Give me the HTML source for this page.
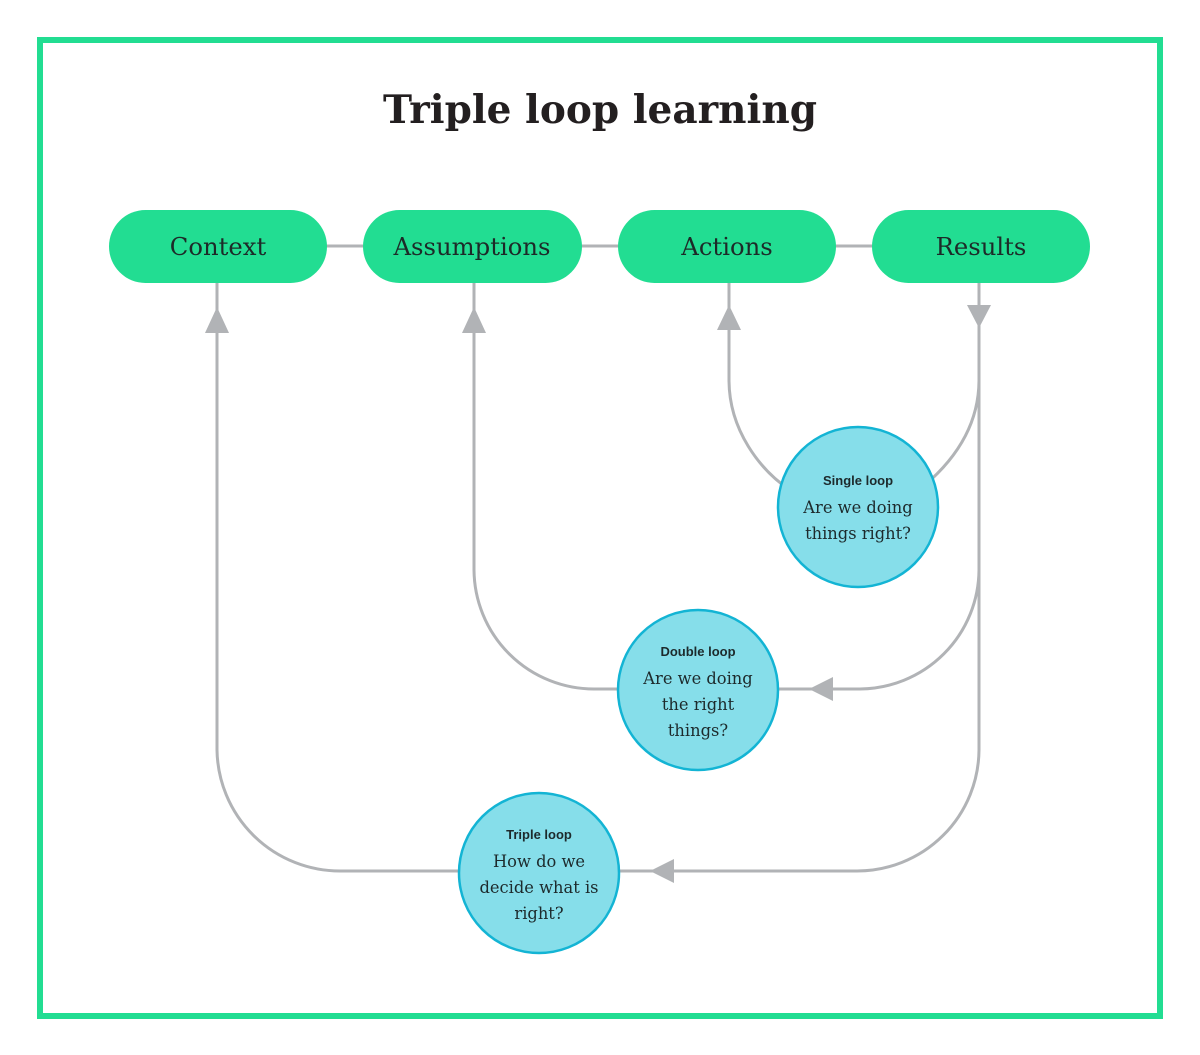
<!DOCTYPE html>
<html><head><meta charset="utf-8"><style>
html,body{margin:0;padding:0;background:#fff;}
svg{display:block;}
.serif{font-family:"DejaVu Serif","Liberation Serif",serif;}
.sans{font-family:"Liberation Sans","DejaVu Sans",sans-serif;}
</style></head><body>
<svg width="1200" height="1055" viewBox="0 0 1200 1055" xmlns="http://www.w3.org/2000/svg">
<rect x="40" y="40" width="1120" height="976" fill="#fff" stroke="#22dd92" stroke-width="6"/>
<text x="600" y="123" text-anchor="middle" class="serif" font-weight="bold" font-size="39" fill="#231f20">Triple loop learning</text>
<g stroke="#b1b3b6" stroke-width="3" fill="none">
<line x1="320" y1="246" x2="880" y2="246"/>
<path d="M729 283 V380 C729 430 760 470 790 490"/>
<path d="M979 283 V380 C979 420 960 455 925 485"/>
<path d="M474 283 V570 A120 120 0 0 0 594 689 H620"/>
<path d="M778 689 H860 A120 120 0 0 0 979 570 V380"/>
<path d="M217 283 V750 A123 123 0 0 0 340 871 H460"/>
<path d="M618 871 H857 A122 122 0 0 0 979 750 V570"/>
</g>
<g fill="#b1b3b6">
<polygon points="217,307 205,333 229,333"/>
<polygon points="474,307 462,333 486,333"/>
<polygon points="729,305 717,330 741,330"/>
<polygon points="979,328 967,305 991,305"/>
<polygon points="809,689 833,677 833,701"/>
<polygon points="650,871 674,859 674,883"/>
</g>
<g fill="#22dd92">
<rect x="109" y="210" width="218" height="73" rx="36.5"/>
<rect x="363" y="210" width="219" height="73" rx="36.5"/>
<rect x="618" y="210" width="218" height="73" rx="36.5"/>
<rect x="872" y="210" width="218" height="73" rx="36.5"/>
</g>
<g class="serif" font-size="24.3" fill="#1d2a28" text-anchor="middle">
<text x="218" y="255">Context</text>
<text x="472" y="255">Assumptions</text>
<text x="727" y="255">Actions</text>
<text x="981" y="255">Results</text>
</g>
<g fill="#86deea" stroke="#13b4d4" stroke-width="2.5">
<circle cx="858" cy="507" r="80"/>
<circle cx="698" cy="690" r="80"/>
<circle cx="539" cy="873" r="80"/>
</g>
<g class="sans" font-size="13" font-weight="bold" fill="#1d2a2c" text-anchor="middle">
<text x="858" y="485">Single loop</text>
<text x="698" y="656">Double loop</text>
<text x="539" y="839">Triple loop</text>
</g>
<g class="serif" font-size="16.3" fill="#1d2a2c" text-anchor="middle">
<text x="858" y="513">Are we doing</text>
<text x="858" y="539">things right?</text>
<text x="698" y="684">Are we doing</text>
<text x="698" y="710">the right</text>
<text x="698" y="736">things?</text>
<text x="539" y="867">How do we</text>
<text x="539" y="893">decide what is</text>
<text x="539" y="919">right?</text>
</g>
</svg>
</body></html>
